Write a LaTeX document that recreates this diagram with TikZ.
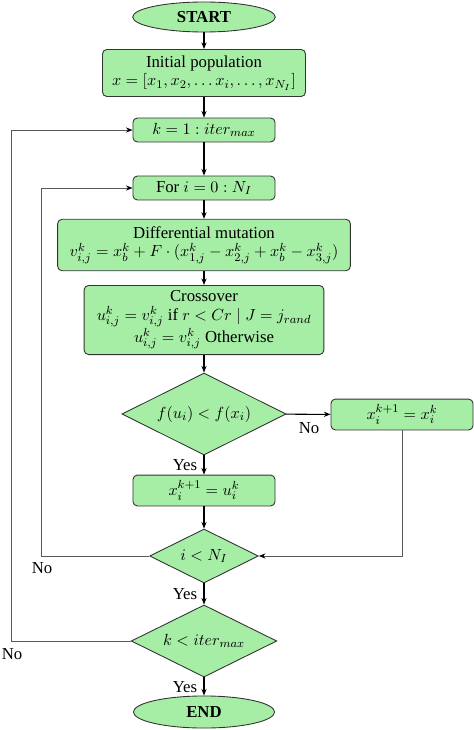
\documentclass[tikz,border=0pt]{standalone}
\usepackage{fontspec}
\setmainfont{Liberation Serif}
\usetikzlibrary{shapes.geometric,arrows.meta}
\definecolor{boxgreen}{RGB}{166,238,166}
\begin{document}
\begin{tikzpicture}[x=0.68pt,y=-0.68pt,
  every node/.style={font=\fontsize{11.4}{12.6}\selectfont},
  base/.style={draw=black!80,line width=0.6pt,fill=boxgreen,inner sep=1pt,align=center},
  procbox/.style={base,rectangle,rounded corners=3pt},
  term/.style={base,ellipse},
  decision/.style={base,diamond,aspect=2,inner sep=0pt},
  arr/.style={line width=0.7pt,-{Stealth[length=4.5pt,width=3.5pt]}},
  loopline/.style={line width=0.6pt,draw=black!65,-{Stealth[length=4.5pt,width=3.5pt,black]}},
  lbl/.style={inner sep=0pt}]
\useasboundingbox (0,0) rectangle (474,730);
\node[term,minimum width=97pt,minimum height=20.4pt] (start) at (204,17) {\textbf{START}};
\node[procbox,minimum width=138pt,minimum height=32pt] (init) at (204,73) {Initial population\\$x=[x_1,x_2,\ldots x_i,\ldots,x_{N_I}]$};
\node[procbox,minimum width=96.6pt,minimum height=16.3pt] (k1) at (204,130) {$k=1:iter_{max}$};
\node[procbox,minimum width=96.6pt,minimum height=16.3pt] (fori) at (204,188) {For $i=0:N_I$};
\node[procbox,minimum width=199pt,minimum height=35pt] (mut) at (204,245) {Differential mutation\\$v_{i,j}^k=x_b^k+F\cdot(x_{1,j}^k-x_{2,j}^k+x_b^k-x_{3,j}^k)$};
\node[procbox,minimum width=163pt,minimum height=47pt] (cross) at (204,320) {Crossover\\$u_{i,j}^k=v_{i,j}^k$ if $r<Cr\mid J=j_{rand}$\\$u_{i,j}^k=v_{i,j}^k$ Otherwise};
\node[decision,minimum width=111.5pt,minimum height=55.8pt] (d1) at (204,414) {$f(u_i)<f(x_i)$};
\node[procbox,minimum width=96.6pt,minimum height=21pt] (keep) at (402,414.5) {$x_i^{k+1}=x_i^k$};
\node[procbox,minimum width=96.6pt,minimum height=21pt] (upd) at (204,490.5) {$x_i^{k+1}=u_i^k$};
\node[decision,minimum width=74pt,minimum height=36.7pt] (d2) at (204,556) {$i<N_I$};
\node[decision,minimum width=99pt,minimum height=49pt] (d3) at (204,641) {$k<iter_{max}$};
\node[term,minimum width=96pt,minimum height=21.8pt] (end) at (204,712) {\textbf{END}};
\coordinate (L1) at (11,0);
\coordinate (L2) at (41,0);
\draw[arr] (start) -- (init);
\draw[arr] (init) -- (k1);
\draw[arr] (k1) -- (fori);
\draw[arr] (fori) -- (mut);
\draw[arr] (mut) -- (cross);
\draw[arr] (cross) -- (d1);
\draw[arr] (d1) -- (upd);
\draw[arr] (d1) -- (keep);
\draw[arr] (upd) -- (d2);
\draw[arr] (d2) -- (d3);
\draw[arr] (d3) -- (end);
\draw[loopline] (keep.south) |- (d2.east);
\draw[loopline] (d2.west) -- (d2.west -| L2) |- (fori.west);
\draw[loopline] (d3.west) -- (d3.west -| L1) |- (k1.west);
\node[lbl] (n1) at (309,428) {No};
\node[lbl] (y1) at (185,465) {Yes};
\node[lbl] (n2) at (42,568) {No};
\node[lbl] (y2) at (185,594) {Yes};
\node[lbl] (n3) at (12,654) {No};
\node[lbl] (y3) at (185,687) {Yes};
\end{tikzpicture}
\end{document}
